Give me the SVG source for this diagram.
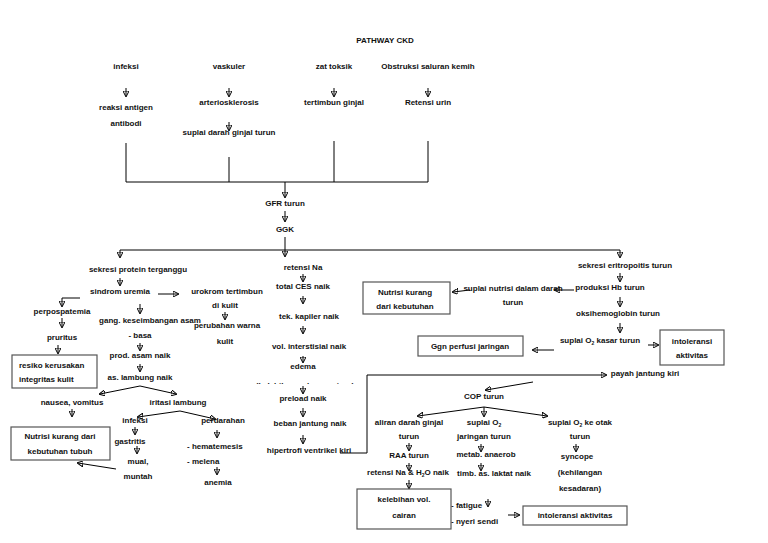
<svg xmlns="http://www.w3.org/2000/svg" width="768" height="543" viewBox="0 0 768 543">
<defs>
<marker id="a" markerWidth="6" markerHeight="6" refX="5" refY="3" orient="auto" markerUnits="userSpaceOnUse"><path d="M0,0 L6,3 L0,6 z" fill="#000"/></marker>
<clipPath id="c"><rect x="250" y="380" width="120" height="4"/></clipPath>
</defs>
<style>
text{font-family:"Liberation Sans",Arial,sans-serif;font-size:8px;font-weight:bold;fill:#111;text-anchor:middle}
.l{text-anchor:start}
line,path{stroke:#000;stroke-width:1;fill:none}
.ar{marker-end:url(#a)}
rect{fill:#fff;stroke:#555;stroke-width:1.2}
</style>
<rect x="0" y="0" width="768" height="543" style="stroke:none"/>
<g id="connectors">
<line class="ar" x1="126" y1="88" x2="126" y2="96"/>
<line class="ar" x1="229" y1="88" x2="229" y2="96"/>
<line class="ar" x1="334" y1="88" x2="334" y2="96"/>
<line class="ar" x1="428" y1="88" x2="428" y2="96"/>
<line class="ar" x1="229" y1="122" x2="229" y2="130"/>
<line x1="126" y1="143" x2="126" y2="182"/>
<line x1="229" y1="157" x2="229" y2="182"/>
<line x1="334" y1="141" x2="334" y2="182"/>
<line x1="428" y1="141" x2="428" y2="182"/>
<line x1="126" y1="182" x2="428" y2="182"/>
<line class="ar" x1="285" y1="182" x2="285" y2="197"/>
<line class="ar" x1="285" y1="211" x2="285" y2="221"/>
<line x1="120" y1="250" x2="620" y2="250"/>
<line class="ar" x1="285" y1="237" x2="285" y2="256"/>
<line class="ar" x1="120" y1="250" x2="120" y2="257"/>
<line class="ar" x1="620" y1="250" x2="620" y2="257"/>
<line class="ar" x1="120" y1="278" x2="120" y2="285"/>
<line class="ar" x1="158" y1="294" x2="178" y2="294"/>
<line class="ar" x1="225" y1="312" x2="225" y2="319"/>
<path class="ar" d="M80 298 H62 V306"/>
<line class="ar" x1="62" y1="318" x2="62" y2="327"/>
<line class="ar" x1="58" y1="345" x2="58" y2="353"/>
<line class="ar" x1="140" y1="304" x2="140" y2="313"/>
<line class="ar" x1="140" y1="343" x2="140" y2="350"/>
<line class="ar" x1="140" y1="364" x2="140" y2="371"/>
<line class="ar" x1="140" y1="386" x2="100" y2="394"/>
<line class="ar" x1="140" y1="386" x2="176" y2="394"/>
<line class="ar" x1="72" y1="409" x2="72" y2="416"/>
<line class="ar" x1="180" y1="411" x2="138" y2="417"/>
<line class="ar" x1="180" y1="411" x2="215" y2="419"/>
<line class="ar" x1="135" y1="427" x2="135" y2="434"/>
<line class="ar" x1="137" y1="446" x2="137" y2="453"/>
<line class="ar" x1="116" y1="469" x2="78" y2="463"/>
<line class="ar" x1="217" y1="430" x2="217" y2="437"/>
<line class="ar" x1="217" y1="467" x2="217" y2="474"/>
<line class="ar" x1="303" y1="274" x2="303" y2="281"/>
<line class="ar" x1="303" y1="296" x2="303" y2="303"/>
<line class="ar" x1="303" y1="326" x2="303" y2="333"/>
<line class="ar" x1="303" y1="356" x2="303" y2="362"/>
<line class="ar" x1="303" y1="386" x2="303" y2="393"/>
<line class="ar" x1="303" y1="408" x2="303" y2="416"/>
<line class="ar" x1="303" y1="435" x2="303" y2="443"/>
<path class="ar" d="M340 453 H367 V375 H606"/>
<line class="ar" x1="533" y1="382" x2="486" y2="390"/>
<line class="ar" x1="484" y1="407" x2="418" y2="416"/>
<line class="ar" x1="484" y1="407" x2="484" y2="416"/>
<line class="ar" x1="484" y1="407" x2="547" y2="416"/>
<line class="ar" x1="409" y1="443" x2="409" y2="450"/>
<line class="ar" x1="409" y1="463" x2="409" y2="470"/>
<line class="ar" x1="409" y1="480" x2="409" y2="488"/>
<line class="ar" x1="481" y1="444" x2="481" y2="451"/>
<line class="ar" x1="481" y1="463" x2="481" y2="470"/>
<line class="ar" x1="576" y1="444" x2="576" y2="451"/>
<line class="ar" x1="488" y1="499" x2="488" y2="506"/>
<line class="ar" x1="508" y1="515" x2="519" y2="515"/>
<line class="ar" x1="620" y1="273" x2="620" y2="281"/>
<line class="ar" x1="620" y1="297" x2="620" y2="306"/>
<line class="ar" x1="620" y1="323" x2="620" y2="332"/>
<line class="ar" x1="648" y1="345" x2="658" y2="345"/>
<line class="ar" x1="574" y1="290" x2="555" y2="290"/>
<line class="ar" x1="470" y1="290" x2="453" y2="292"/>
<line class="ar" x1="554" y1="350" x2="533" y2="350"/>
</g>
<g id="title"><text x="385" y="43">PATHWAY CKD</text></g>
<g id="n-top">
<text x="126" y="69">infeksi</text>
<text x="229" y="69">vaskuler</text>
<text x="334" y="69">zat toksik</text>
<text x="428" y="69">Obstruksi saluran kemih</text>
<text x="126" y="110">reaksi antigen</text><text x="126" y="126">antibodi</text>
<text x="229" y="105">arteriosklerosis</text>
<text x="229" y="135">suplai darah ginjal turun</text>
<text x="334" y="105">tertimbun ginjal</text>
<text x="428" y="105">Retensi urin</text>
<text x="285" y="206">GFR turun</text>
<text x="285" y="232">GGK</text>
</g>
<g id="n-left">
<text x="138" y="272">sekresi protein terganggu</text>
<text x="120" y="294">sindrom uremia</text>
<text x="227" y="294">urokrom tertimbun</text><text x="225" y="308">di kulit</text>
<text x="227" y="328">perubahan warna</text><text x="225" y="344">kulit</text>
<text x="62" y="314">perpospatemia</text>
<text x="62" y="340">pruritus</text>
<text x="150" y="323">gang. keseimbangan asam</text>
<text x="140" y="338">- basa</text>
<text x="140" y="358">prod. asam naik</text>
<text x="140" y="380">as. lambung naik</text>
<text x="72" y="405">nausea, vomitus</text>
<text x="178" y="405">iritasi lambung</text>
<text x="135" y="423">infeksi</text>
<text x="130" y="444">gastritis</text>
<text x="138" y="464">mual,</text><text x="138" y="479">muntah</text>
<text x="223" y="423">perdarahan</text>
<text class="l" x="187" y="449">- hematemesis</text>
<text class="l" x="187" y="464">- melena</text>
<text x="218" y="485">anemia</text>
</g>
<g id="box-kulit"><rect x="12" y="355" width="85" height="33"/><text class="l" x="19" y="368">resiko kerusakan</text><text class="l" x="19" y="382">integritas kulit</text></g>
<g id="box-nutrisi1"><rect x="11" y="427" width="99" height="33"/><text x="60" y="439">Nutrisi kurang dari</text><text x="60" y="454">kebutuhan tubuh</text></g>
<g id="n-mid">
<text x="303" y="270">retensi Na</text>
<text x="303" y="289">total CES naik</text>
<text x="309" y="319">tek. kapiler naik</text>
<text x="309" y="349">vol. interstisial naik</text>
<text x="303" y="369">edema</text>
<text x="305" y="388" clip-path="url(#c)">(kelebihan volume cairan)</text>
<text x="303" y="401">preload naik</text>
<text x="310" y="426">beban jantung naik</text>
<text x="309" y="453">hipertrofi ventrikel kiri</text>
<text x="645" y="376">payah jantung kiri</text>
<text x="484" y="399">COP turun</text>
<text x="409" y="425">aliran darah ginjal</text><text x="409" y="439">turun</text>
<text x="409" y="458">RAA turun</text>
<text x="408" y="475">retensi Na &amp; H<tspan font-size="5" dy="2">2</tspan><tspan dy="-2">O naik</tspan></text>
<text x="484" y="425">suplai O<tspan font-size="5" dy="2">2</tspan></text><text x="484" y="439">jaringan turun</text>
<text x="486" y="457">metab. anaerob</text>
<text x="494" y="476">timb. as. laktat naik</text>
<text x="580" y="425">suplai O<tspan font-size="5" dy="2">2</tspan><tspan dy="-2"> ke otak</tspan></text><text x="580" y="439">turun</text>
<text x="577" y="459">syncope</text>
<text x="580" y="475">(kehilangan</text><text x="580" y="491">kesadaran)</text>
<text class="l" x="451" y="508">- fatigue</text>
<text class="l" x="451" y="524">- nyeri sendi</text>
</g>
<g id="box-cairan"><rect x="357" y="489" width="94" height="40"/><text x="404" y="502">kelebihan vol.</text><text x="404" y="518">cairan</text></g>
<g id="box-intol2"><rect x="523" y="506" width="104" height="19"/><text x="575" y="518">intoleransi aktivitas</text></g>
<g id="n-right">
<text x="625" y="268">sekresi eritropoitis turun</text>
<text x="610" y="290">produksi Hb turun</text>
<text x="618" y="316">oksihemoglobin turun</text>
<text x="600" y="343">suplai O<tspan font-size="5" dy="2">2</tspan><tspan dy="-2"> kasar turun</tspan></text>
<text x="513" y="291">suplai nutrisi dalam darah</text><text x="513" y="305">turun</text>
</g>
<g id="box-nutrisi2"><rect x="363" y="282" width="87" height="32"/><text x="405" y="295">Nutrisi kurang</text><text x="405" y="309">dari kebutuhan</text></g>
<g id="box-ggn"><rect x="418" y="336" width="105" height="20"/><text x="470" y="349">Ggn perfusi jaringan</text></g>
<g id="box-intol1"><rect x="660" y="330" width="64" height="35"/><text x="692" y="344">intoleransi</text><text x="692" y="358">aktivitas</text></g>
</svg>
